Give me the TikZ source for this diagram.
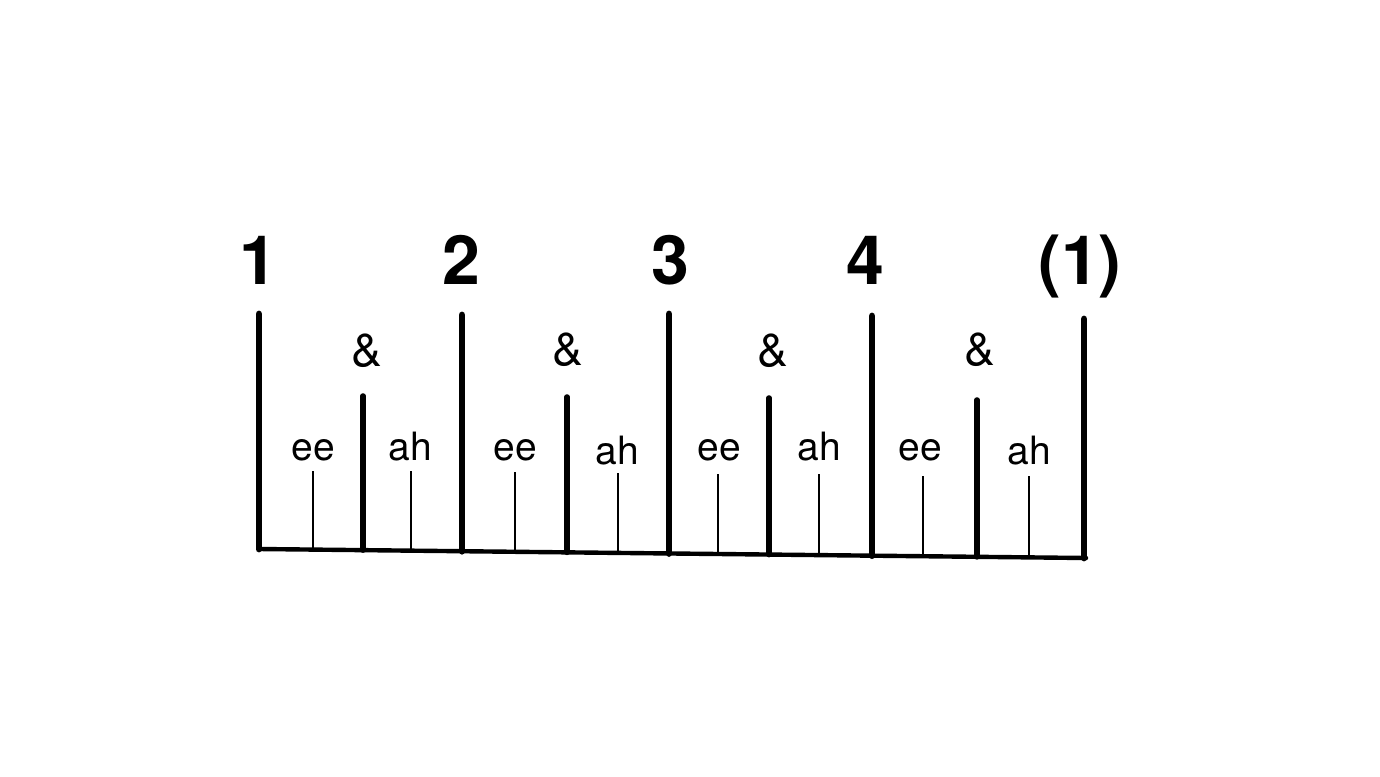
\documentclass[tikz,border=0pt]{standalone}
\usepackage{fontspec}
\setmainfont{TeX Gyre Heros}
\begin{document}
\begin{tikzpicture}[x=0.5pt,y=-0.5pt,
  beatlbl/.style={font=\fontsize{34}{34}\selectfont\bfseries,anchor=base,inner sep=0pt},
  andlbl/.style={font=\fontsize{23}{23}\selectfont,anchor=base,inner sep=0pt},
  sublbl/.style={font=\fontsize{19.5}{19.5}\selectfont,anchor=base,inner sep=0pt},
  tallt/.style={line width=3.4pt,line cap=round},
  medt/.style={line width=2.8pt,line cap=round},
  shortt/.style={line width=1.2pt},
  basel/.style={line width=2.2pt,line cap=round}]
\useasboundingbox (0,0) rectangle (1380,776);
\fill[white] (0,0) rectangle (1380,776);
% baseline
\coordinate (L) at (259,549);
\coordinate (R) at (1086,558);
\draw[basel] (L) -- (R);
% tall ticks
\foreach \n/\x/\t in {t1/259/314, t2/462/315, t3/669/314, t4/872/316, t5/1084/319}{
  \pgfmathsetmacro{\yb}{549+9*(\x-259)/827}
  \coordinate (\n top) at (\x,\t);
  \coordinate (\n bot) at (\x,\yb);
  \draw[tallt] (\n top) -- (\n bot);
}
% medium ticks
\foreach \n/\x/\t in {m1/363/396, m2/567/397, m3/769/398, m4/977/400}{
  \pgfmathsetmacro{\yb}{549+9*(\x-259)/827}
  \coordinate (\n top) at (\x,\t);
  \coordinate (\n bot) at (\x,\yb);
  \draw[medt] (\n top) -- (\n bot);
}
% short ticks
\foreach \n/\x/\t in {s1/313/471, s2/411/471, s3/515/472, s4/618/473, s5/718/474, s6/819/474, s7/923/476, s8/1029/476}{
  \pgfmathsetmacro{\yb}{549+9*(\x-259)/827}
  \coordinate (\n top) at (\x,\t);
  \coordinate (\n bot) at (\x,\yb);
  \draw[shortt] (\n top) -- (\n bot);
}
% beat labels
\node[beatlbl] (b1) at (258,284) {1};
\node[beatlbl] (b2) at (461,284) {2};
\node[beatlbl] (b3) at (670,284) {3};
\node[beatlbl] (b4) at (865,284) {4};
\node[beatlbl] (b5) at (1080,284) {(1)};
% & labels
\node[andlbl] (a1) at (367,366) {\&};
\node[andlbl] (a2) at (568,365) {\&};
\node[andlbl] (a3) at (773,366) {\&};
\node[andlbl] (a4) at (980,365) {\&};
% ee / ah labels
\node[sublbl] (e1) at (313,460) {ee};
\node[sublbl] (h1) at (410,460) {ah};
\node[sublbl] (e2) at (515,460) {ee};
\node[sublbl] (h2) at (617,464) {ah};
\node[sublbl] (e3) at (719,460) {ee};
\node[sublbl] (h3) at (819,460) {ah};
\node[sublbl] (e4) at (920,460) {ee};
\node[sublbl] (h4) at (1029,464) {ah};
\end{tikzpicture}
\end{document}
